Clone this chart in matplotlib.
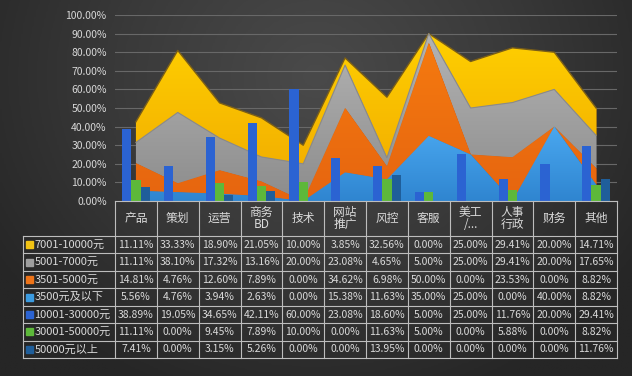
import numpy as np
import matplotlib
matplotlib.use("Agg")
import matplotlib.pyplot as plt
from matplotlib.colors import LinearSegmentedColormap
from matplotlib.patches import Rectangle

plt.rcParams['font.family'] = ['Noto Sans CJK SC', 'DejaVu Sans']

categories = ["产品", "策划", "运营", "商务\nBD", "技术", "网站\n推广", "风控", "客服", "美工\n/...", "人事\n行政", "财务", "其他"]

s_7001_10000 = [11.11, 33.33, 18.90, 21.05, 10.00, 3.85, 32.56, 0.00, 25.00, 29.41, 20.00, 14.71]
s_5001_7000 = [11.11, 38.10, 17.32, 13.16, 20.00, 23.08, 4.65, 5.00, 25.00, 29.41, 20.00, 17.65]
s_3501_5000 = [14.81, 4.76, 12.60, 7.89, 0.00, 34.62, 6.98, 50.00, 0.00, 23.53, 0.00, 8.82]
s_3500_below = [5.56, 4.76, 3.94, 2.63, 0.00, 15.38, 11.63, 35.00, 25.00, 0.00, 40.00, 8.82]
s_10001_30000 = [38.89, 19.05, 34.65, 42.11, 60.00, 23.08, 18.60, 5.00, 25.00, 11.76, 20.00, 29.41]
s_30001_50000 = [11.11, 0.00, 9.45, 7.89, 10.00, 0.00, 11.63, 5.00, 0.00, 5.88, 0.00, 8.82]
s_50000_above = [7.41, 0.00, 3.15, 5.26, 0.00, 0.00, 13.95, 0.00, 0.00, 0.00, 0.00, 11.76]

series_names = ["7001-10000元", "5001-7000元", "3501-5000元", "3500元及以下", "10001-30000元", "30001-50000元", "50000元以上"]
series_vals = [s_7001_10000, s_5001_7000, s_3501_5000, s_3500_below, s_10001_30000, s_30001_50000, s_50000_above]
key_colors = ["#F2C314", "#9E9E9E", "#EE7419", "#3B9BE0", "#2B63D2", "#5DB83A", "#1F5E9A"]

yticks = np.arange(0, 101, 10)

W, H = 632, 376
fig = plt.figure(figsize=(W / 100, H / 100), dpi=100)

# background gradient
bg = fig.add_axes([0, 0, 1, 1], zorder=-10)
xx = np.linspace(-1, 1, 300)
yy = np.linspace(-1, 1, 200)
X, Y = np.meshgrid(xx, yy)
R = np.sqrt((X * 0.9) ** 2 + ((Y - 0.6) * 0.6) ** 2)
bgc = LinearSegmentedColormap.from_list("bg", ["#4a4a4a", "#3a3a3a", "#262626"])
bg.imshow(R, cmap=bgc, aspect="auto", extent=[0, 1, 0, 1], origin="lower", vmin=0, vmax=1.1)
bg.axis("off")

L, Rr, T, B = 115, 617, 15, 201
ax = fig.add_axes([L / W, 1 - B / H, (Rr - L) / W, (B - T) / H])
ax.set_facecolor("none")
n = len(categories)
x = np.arange(n)
ax.set_xlim(-0.5, n - 0.5)
ax.set_ylim(0, 100)
for s in ax.spines.values():
    s.set_visible(False)
ax.set_yticks(yticks)
ax.set_yticklabels([f"{v:.2f}%" for v in yticks], color="#d8d8d8", fontsize=7.5)
ax.tick_params(axis="y", length=0, pad=6)
ax.set_xticks([])
for v in yticks[1:]:
    ax.axhline(v, color="#686868", lw=0.8, zorder=0)


def grad_fill(x, y1, y2, ctop, cbot, z):
    poly = ax.fill_between(x, y1, y2, color=cbot, lw=0, zorder=z)
    cm = LinearSegmentedColormap.from_list("g", [cbot, ctop])
    g = np.linspace(0, 1, 256).reshape(-1, 1)
    top = max(np.max(y2), 1)
    im = ax.imshow(g, cmap=cm, aspect="auto", extent=[-0.5, n - 0.5, 0, top],
                   origin="lower", zorder=z)
    im.set_clip_path(poly.get_paths()[0], transform=ax.transData)
    ax.set_xlim(-0.5, n - 0.5)
    ax.set_ylim(0, 100)


b0 = np.zeros(n)
b1 = b0 + np.array(s_3500_below)
b2 = b1 + np.array(s_3501_5000)
b3 = b2 + np.array(s_5001_7000)
b4 = b3 + np.array(s_7001_10000)

grad_fill(x, b3, b4, "#FFD000", "#F0A800", 2)
ax.plot(x, b4, color="#7a5e18", lw=1.0, zorder=2.5)
grad_fill(x, b2, b3, "#B4B4B4", "#8C8C8C", 3)
ax.plot(x, b3, color="#8a8a8a", lw=0.8, zorder=3.5)
grad_fill(x, b1, b2, "#F57A10", "#E6650F", 4)
grad_fill(x, b0, b1, "#4AA8F0", "#2F85D0", 5)

bw = 0.22
ax.bar(x - bw, s_10001_30000, bw, color="#2B63D2", zorder=6)
ax.bar(x, s_30001_50000, bw, color="#5DB83A", zorder=6)
ax.bar(x + bw, s_50000_above, bw, color="#1F5E9A", zorder=6)

# table
tax = fig.add_axes([0, 0, 1, 1], zorder=5)
tax.set_xlim(0, W)
tax.set_ylim(H, 0)
tax.axis("off")
lc = "#bdbdbd"
tc = "#dadada"
colw = (Rr - L) / n
header_bot = 236
row_h = 17.45
rows_bot = header_bot + row_h * len(series_names)
lab_left = 23

# horizontal lines
tax.plot([L, Rr], [B, B], color=lc, lw=0.8)
for i in range(len(series_names) + 1):
    yv = header_bot + i * row_h
    tax.plot([lab_left, Rr], [yv, yv], color=lc, lw=0.8)
# vertical lines
for j in range(n + 1):
    xv = L + j * colw
    tax.plot([xv, xv], [B, rows_bot], color=lc, lw=0.8)
tax.plot([lab_left, lab_left], [header_bot, rows_bot], color=lc, lw=0.8)

for j, c in enumerate(categories):
    tax.text(L + (j + 0.5) * colw, (B + header_bot) / 2, c, ha="center", va="center",
             color=tc, fontsize=8.5, linespacing=0.95)

for i, (nm, vals, kc) in enumerate(zip(series_names, series_vals, key_colors)):
    yc = header_bot + (i + 0.5) * row_h
    tax.add_patch(Rectangle((26, yc - 3.5), 7, 7, color=kc))
    tax.text(34.5, yc, nm, ha="left", va="center", color=tc, fontsize=8.0)
    for j, v in enumerate(vals):
        tax.text(L + (j + 0.5) * colw, yc, f"{v:.2f}%", ha="center", va="center",
                 color=tc, fontsize=7.5)

fig.savefig("out.png", dpi=100)
